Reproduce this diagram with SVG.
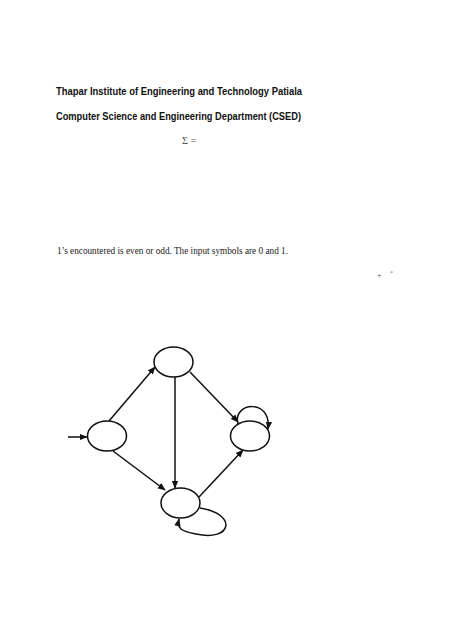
<svg xmlns="http://www.w3.org/2000/svg" width="474" height="632" viewBox="0 0 474 632">
<defs>
<style>
.h{font-family:"Liberation Sans",Arial,sans-serif;font-weight:bold;font-size:11px;fill:#111}
.t{font-family:"Liberation Serif","Times New Roman",serif;font-size:10px;fill:#1a1a1a}
.n{fill:#fff;stroke:#111;stroke-width:1.5}
.e{fill:none;stroke:#111;stroke-width:1.5}
</style>
<marker id="ah" viewBox="0 0 10 10" refX="9" refY="5" markerWidth="8" markerHeight="8" markerUnits="userSpaceOnUse" orient="auto">
<path d="M0,1 L10,5 L0,9 z" fill="#111"/>
</marker>
</defs>
<rect width="474" height="632" fill="#fff"/>
<text class="h" x="56" y="95" textLength="246" lengthAdjust="spacingAndGlyphs">Thapar Institute of Engineering and Technology Patiala</text>
<text class="h" x="56" y="120" textLength="245" lengthAdjust="spacingAndGlyphs">Computer Science and Engineering Department (CSED)</text>
<text class="t" x="182" y="144" style="font-size:10.5px;fill:#555">Σ =</text>
<text class="t" x="57" y="254" textLength="231" lengthAdjust="spacingAndGlyphs">1’s encountered is even or odd. The input symbols are 0 and 1.</text>
<text class="t" x="377" y="278" style="font-size:8px;fill:#555">+</text>
<text class="t" x="390" y="275" style="font-size:6px;fill:#777">*</text>
<g id="connectors">
<line class="e" x1="68" y1="437" x2="87" y2="437" marker-end="url(#ah)"/>
<line class="e" x1="109" y1="421" x2="155" y2="367" marker-end="url(#ah)"/>
<line class="e" x1="113" y1="451" x2="165" y2="490" marker-end="url(#ah)"/>
<line class="e" x1="175" y1="377" x2="175" y2="488" marker-end="url(#ah)"/>
<line class="e" x1="190" y1="372" x2="238" y2="422" marker-end="url(#ah)"/>
<line class="e" x1="199" y1="497" x2="243" y2="450" marker-end="url(#ah)"/>
<path class="e" d="M238,424 C232,402 272,398 268,429" marker-end="url(#ah)"/>
<path class="e" d="M200,508 C238,514 232,542 196,534 C180,531 177,528 179,519" marker-end="url(#ah)"/>
</g>
<g id="q0"><ellipse class="n" cx="107" cy="436" rx="19.5" ry="15"/></g>
<g id="q1"><ellipse class="n" cx="173.5" cy="362" rx="19.5" ry="15"/></g>
<g id="q2"><ellipse class="n" cx="250" cy="436" rx="19.5" ry="15"/></g>
<g id="q3"><ellipse class="n" cx="180.5" cy="503" rx="19.5" ry="15"/></g>
</svg>
